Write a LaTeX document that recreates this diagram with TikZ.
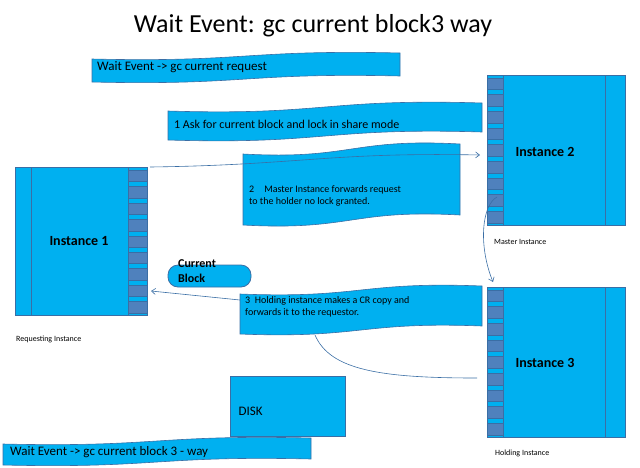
\documentclass[tikz,border=0pt]{standalone}
\usepackage{fontspec}
\setmainfont{Carlito}
\usetikzlibrary{shapes.geometric,arrows.meta}
\definecolor{cy}{HTML}{00B0F0}
\definecolor{sq}{HTML}{4F81BD}
\definecolor{ed}{HTML}{3A6EA5}
\tikzset{
  inst/.style={draw=ed,fill=cy,line width=0.8pt,minimum width=#1,inner sep=0},
  conn/.style={draw=ed,line width=0.6pt,-{Straight Barb[length=4pt,width=6pt]}},
  lbl/.style={font=\fontsize{9}{10}\selectfont,anchor=west,inner sep=0},
  bantext/.style={anchor=west,inner sep=0,align=left}
}
% banner: x1 y1 x2 y2 amplitude
\newcommand{\banner}[5]{%
  \pgfmathsetmacro{\mx}{(#1+#3)/2}
  \filldraw[draw=ed,fill=cy,line width=0.6pt]
   (#1,#2+#5) .. controls (\mx,#2+#5*2.2) and (\mx,#2-#5*2.2) .. (#3,#2-#5)
   -- (#3,#4-#5) .. controls (\mx,#4-#5*2.2) and (\mx,#4+#5*2.2) .. (#1,#4+#5) -- cycle;}
% squares strip: x1 x2 ytop ybottom count
\newcommand{\strip}[5]{%
  \pgfmathsetmacro{\per}{(#4-#3)/#5}
  \foreach \i in {1,...,#5}{
    \filldraw[draw=ed,fill=sq,line width=0.5pt] (#1,#3+\per*\i-\per+3) rectangle (#2,#3+\per*\i-2);}}
\begin{document}
\begin{tikzpicture}[x=1pt,y=-1pt]
\useasboundingbox (0,0) rectangle (640,467);
\node (title) at (313,26) {\fontsize{26}{28}\selectfont Wait Event: gc current block3 way};

% Instance 1
\node[inst=132pt,minimum height=148pt,anchor=north west] (i1) at (15,167) {};
\draw[ed,line width=0.8pt] (31,167) -- (31,315) (128,167) -- (128,315);
\strip{128}{147}{167}{315}{9}
\node[font=\bfseries\fontsize{14}{16}\selectfont] (t1) at (79,241) {Instance 1};
\node[lbl] (l1) at (16,339) {\fontsize{8}{9}\selectfont Requesting Instance};

% Instance 2
\node[inst=138pt,minimum height=150pt,anchor=north west] (i2) at (487,75) {};
\draw[ed,line width=0.8pt] (503,75) -- (503,225) (605,75) -- (605,225);
\strip{487}{503}{75}{225}{9}
\node[font=\bfseries\fontsize{14}{16}\selectfont] (t2) at (545,152) {Instance 2};
\node[lbl] (l2) at (494,242) {\fontsize{8}{9}\selectfont Master Instance};

% Instance 3
\node[inst=138pt,minimum height=150pt,anchor=north west] (i3) at (487,287) {};
\draw[ed,line width=0.8pt] (503,287) -- (503,437) (605,287) -- (605,437);
\strip{487}{503}{287}{437}{9}
\node[font=\bfseries\fontsize{14}{16}\selectfont] (t3) at (545,363) {Instance 3};
\node[lbl] (l3) at (495,453) {\fontsize{8}{9}\selectfont Holding Instance};

% banners
\banner{92}{56}{400}{79}{3}
\node[bantext,font=\fontsize{13}{14}\selectfont] (b0) at (97,67) {Wait Event -> gc current request};
\banner{168}{107}{482}{136}{4}
\node[bantext,font=\fontsize{12}{13}\selectfont] (b1) at (174,124) {1 Ask for current block and lock in share mode};
\banner{243}{149}{460}{220}{5}
\node[bantext,font=\fontsize{10}{12}\selectfont] (b2) at (249,196) {2\quad Master Instance forwards request\\to the holder no lock granted.};
\banner{240}{290}{482}{330}{4}
\node[bantext,font=\fontsize{10}{12}\selectfont] (b3) at (245,307) {3\ \ Holding instance makes a CR copy and\\forwards it to the requestor.};
\banner{3}{441}{311}{462}{3}
\node[bantext,font=\fontsize{13}{14}\selectfont] (b4) at (10,452) {Wait Event -> gc current block 3 - way};

% current block
\filldraw[draw=ed,fill=cy,line width=0.8pt,rounded corners=10pt] (168,265) rectangle (251,287);
\node[anchor=north west,inner sep=0,align=left,font=\bfseries\fontsize{12}{15}\selectfont] (cb) at (178,259) {Current\\Block};

% disk
\node[cylinder,shape border rotate=90,draw=ed,fill=cy,line width=0.8pt,minimum width=115pt,minimum height=60pt,aspect=1.4,inner sep=0] (disk) at (288,407) {};
\node[anchor=west,font=\fontsize{13}{14}\selectfont] (dt) at (235,411) {DISK};

% connectors
\coordinate (a1) at (150,167);
\coordinate (a1e) at (480,155);
\draw[conn] (a1) .. controls (300,165) and (330,152) .. (a1e);
\coordinate (a2) at (497,197);
\coordinate (a2e) at (493,282);
\draw[conn] (a2) .. controls (482,205) and (478,245) .. (a2e);
\coordinate (a3) at (477,378);
\coordinate (a3e) at (315,335);
\draw[draw=ed,line width=0.6pt] (a3) .. controls (380,378) and (330,370) .. (a3e);
\coordinate (a4) at (240,300);
\coordinate (a4e) at (151,291);
\draw[conn] (a4) -- (a4e);
\end{tikzpicture}
\end{document}
